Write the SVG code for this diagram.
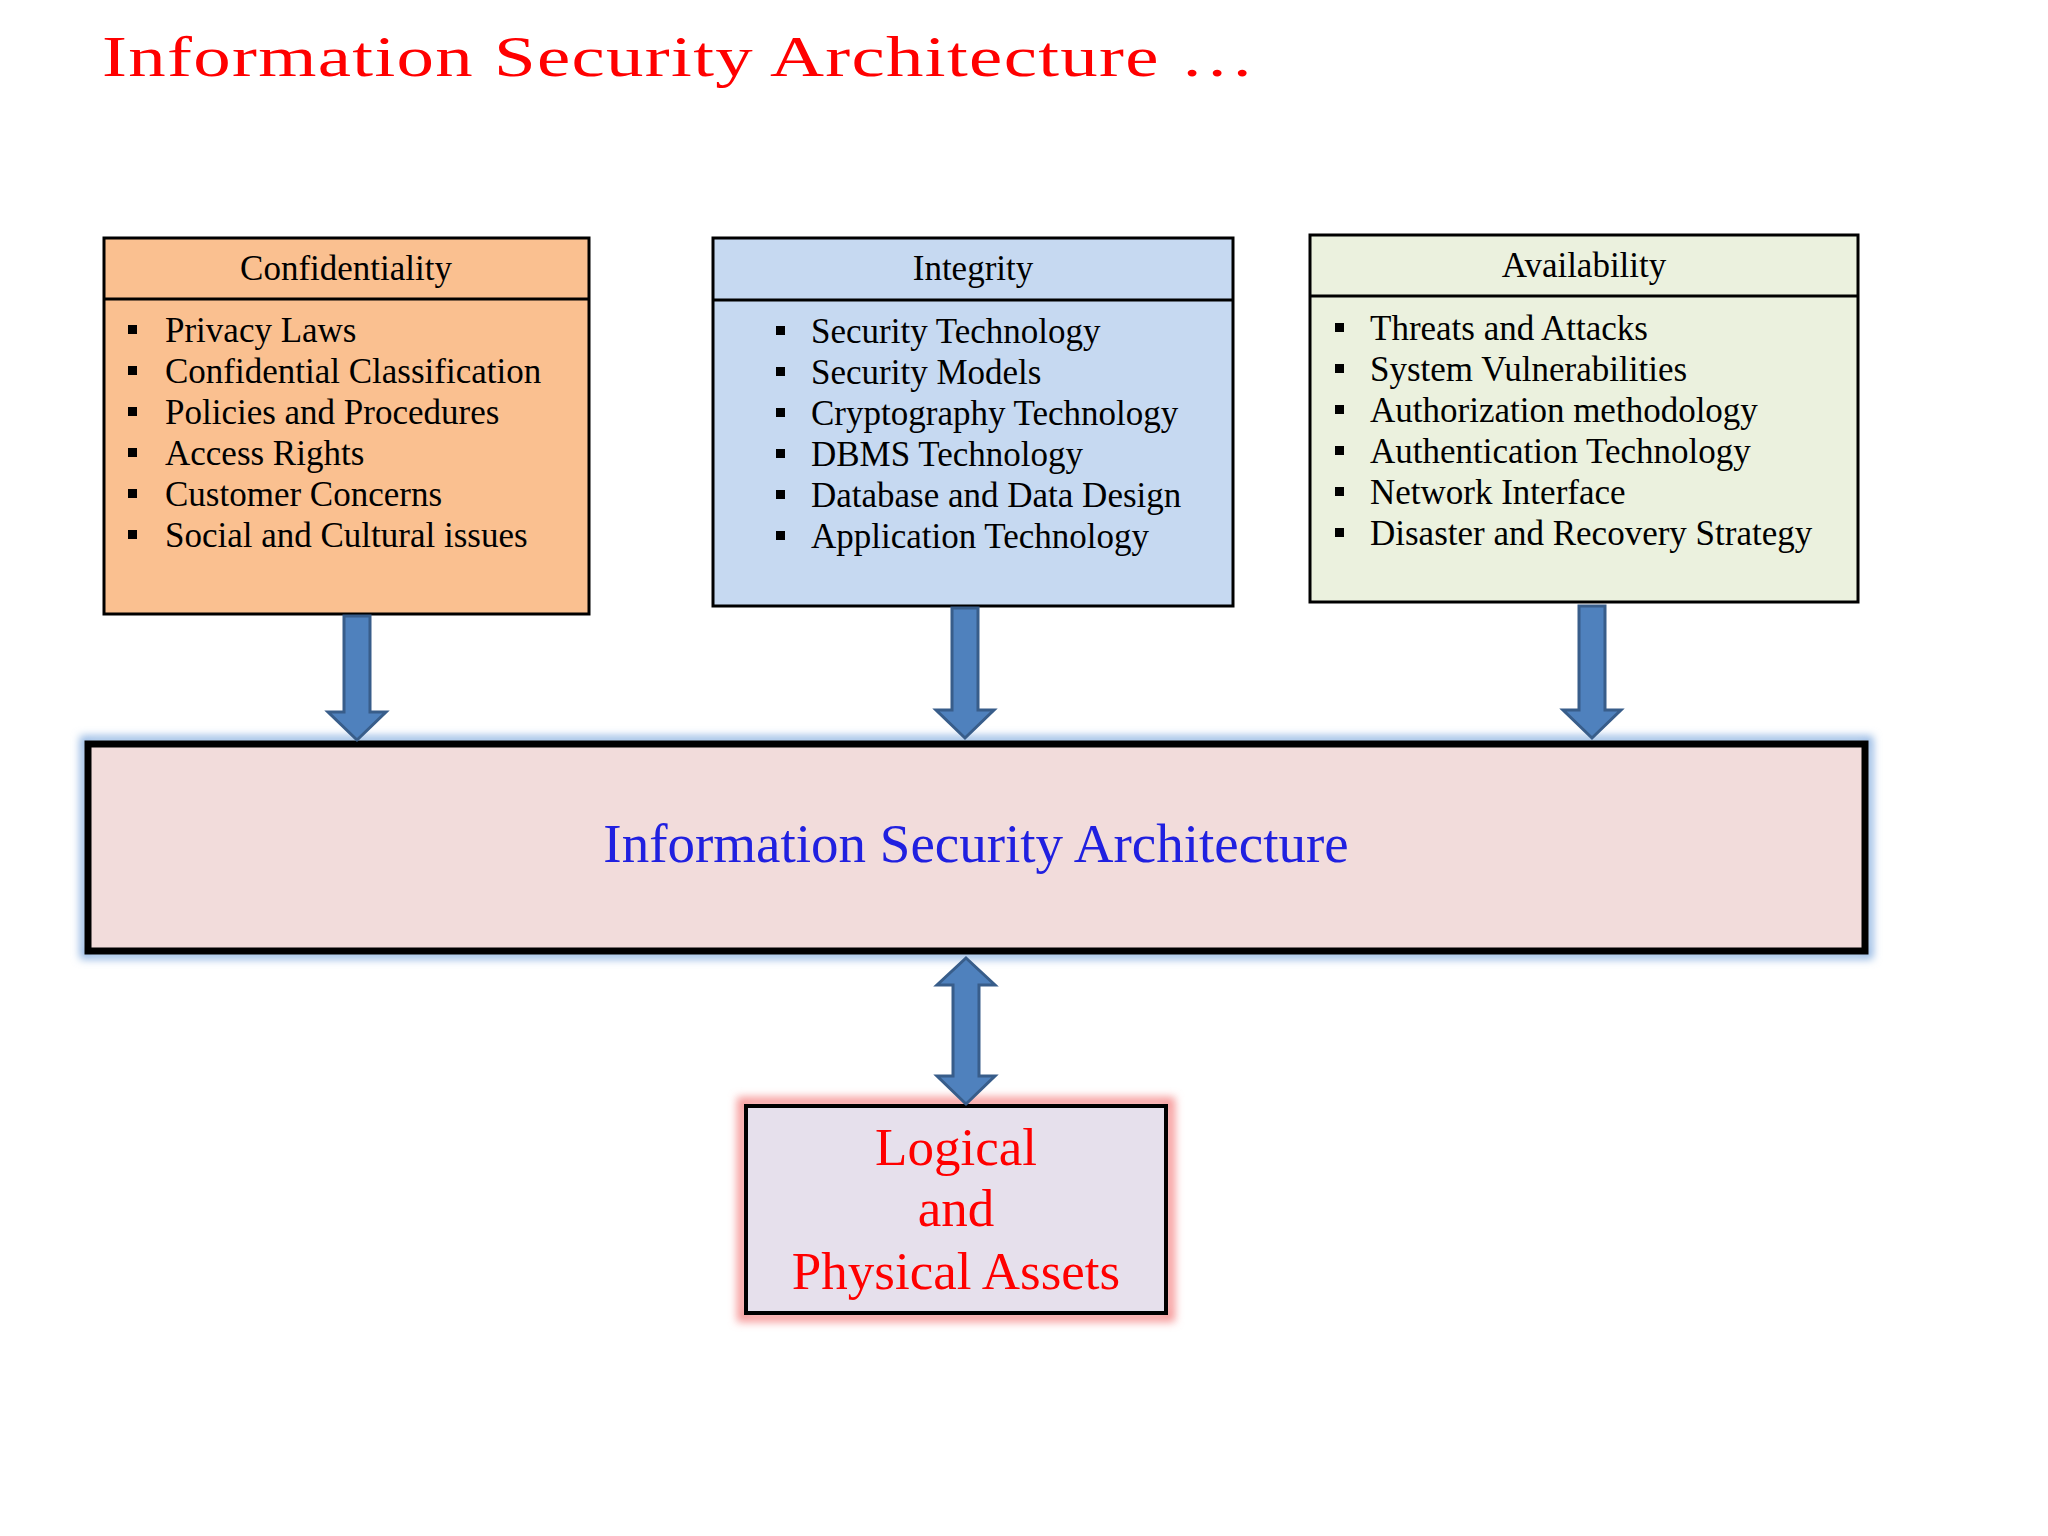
<svg xmlns="http://www.w3.org/2000/svg" width="2048" height="1536" viewBox="0 0 2048 1536">
<defs>
<style>
.t{font-family:"Liberation Serif","DejaVu Serif",serif;font-size:35px;fill:#000}
.h{text-anchor:middle}
.box{stroke:#000;stroke-width:3}
.arr{fill:#4f81bd;stroke:#385d8a;stroke-width:3}
</style>
<filter id="gb" x="-5%" y="-20%" width="110%" height="140%"><feGaussianBlur stdDeviation="4"/></filter>
</defs>
<rect width="2048" height="1536" fill="#fff"/>
<text x="102" y="76" textLength="1154" lengthAdjust="spacingAndGlyphs" style="font-family:'Liberation Serif',serif;font-size:56px;fill:#f00;letter-spacing:1px">Information Security Architecture …</text>

<g id="confidentiality">
<rect class="box" x="104" y="238" width="485" height="376" fill="#fac090"/>
<line x1="104" y1="299" x2="589" y2="299" stroke="#000" stroke-width="3"/>
<text class="t h" x="346" y="280">Confidentiality</text>
<g class="t">
<text x="165" y="342">Privacy Laws</text>
<text x="165" y="383">Confidential Classification</text>
<text x="165" y="424">Policies and Procedures</text>
<text x="165" y="465">Access Rights</text>
<text x="165" y="506">Customer Concerns</text>
<text x="165" y="547">Social and Cultural issues</text>
</g>
<g fill="#000"><rect x="128" y="325" width="9" height="9"/><rect x="128" y="366" width="9" height="9"/><rect x="128" y="407" width="9" height="9"/><rect x="128" y="448" width="9" height="9"/><rect x="128" y="489" width="9" height="9"/><rect x="128" y="530" width="9" height="9"/></g>
</g>

<g id="integrity">
<rect class="box" x="713" y="238" width="520" height="368" fill="#c6d9f1"/>
<line x1="713" y1="300" x2="1233" y2="300" stroke="#000" stroke-width="3"/>
<text class="t h" x="973" y="280">Integrity</text>
<g class="t">
<text x="811" y="343">Security Technology</text>
<text x="811" y="384">Security Models</text>
<text x="811" y="425">Cryptography Technology</text>
<text x="811" y="466">DBMS Technology</text>
<text x="811" y="507">Database and Data Design</text>
<text x="811" y="548">Application Technology</text>
</g>
<g fill="#000"><rect x="776" y="326" width="9" height="9"/><rect x="776" y="367" width="9" height="9"/><rect x="776" y="408" width="9" height="9"/><rect x="776" y="449" width="9" height="9"/><rect x="776" y="490" width="9" height="9"/><rect x="776" y="531" width="9" height="9"/></g>
</g>

<g id="availability">
<rect class="box" x="1310" y="235" width="548" height="367" fill="#ebf1de"/>
<line x1="1310" y1="296" x2="1858" y2="296" stroke="#000" stroke-width="3"/>
<text class="t h" x="1584" y="277">Availability</text>
<g class="t">
<text x="1370" y="340">Threats and Attacks</text>
<text x="1370" y="381">System Vulnerabilities</text>
<text x="1370" y="422">Authorization methodology</text>
<text x="1370" y="463">Authentication Technology</text>
<text x="1370" y="504">Network Interface</text>
<text x="1370" y="545">Disaster and Recovery Strategy</text>
</g>
<g fill="#000"><rect x="1335" y="323" width="9" height="9"/><rect x="1335" y="364" width="9" height="9"/><rect x="1335" y="405" width="9" height="9"/><rect x="1335" y="446" width="9" height="9"/><rect x="1335" y="487" width="9" height="9"/><rect x="1335" y="528" width="9" height="9"/></g>
</g>

<g id="isa">
<rect x="84" y="740" width="1785" height="215" fill="none" stroke="#8db3e2" stroke-width="8" filter="url(#gb)"/>
<rect x="88" y="744" width="1777" height="207" fill="#f2dcdb" stroke="#000" stroke-width="7"/>
<text x="976" y="862" text-anchor="middle" style="font-family:'Liberation Serif',serif;font-size:55px;fill:#2020e0">Information Security Architecture</text>
</g>

<g id="assets">
<rect x="742" y="1102" width="428" height="215" fill="none" stroke="#f79a9a" stroke-width="10" filter="url(#gb)"/>
<rect x="746" y="1106" width="420" height="207" fill="#e6e0ec" stroke="#000" stroke-width="4"/>
<g style="font-family:'Liberation Serif',serif;font-size:53px;fill:#f00" text-anchor="middle">
<text x="956" y="1165">Logical</text>
<text x="956" y="1226">and</text>
<text x="956" y="1289">Physical Assets</text>
</g>
</g>

<g id="connectors">
<polygon class="arr" points="344,616 370,616 370,712 386,712 357,740 328,712 344,712"/>
<polygon class="arr" points="952,608 978,608 978,710 994,710 965,738 936,710 952,710"/>
<polygon class="arr" points="1579,606 1605,606 1605,710 1621,710 1592,738 1563,710 1579,710"/>
<polygon class="arr" points="966,958 995,985 979,985 979,1076 995,1076 966,1104 937,1076 953,1076 953,985 937,985"/>
</g>
</svg>
